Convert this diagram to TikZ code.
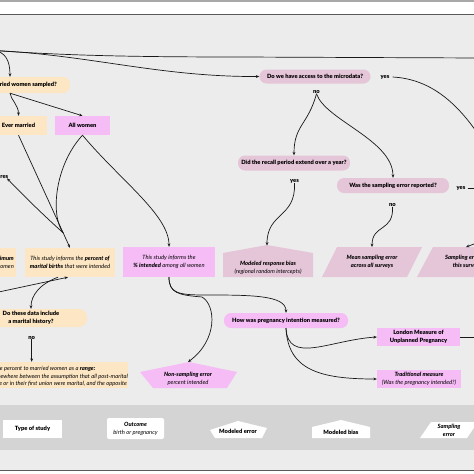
\documentclass[tikz,border=0pt]{standalone}
\usepackage{fontspec}
\setmainfont{Lato}[BoldFont={Lato Black}, BoldItalicFont={Lato Black Italic}]
\usetikzlibrary{arrows.meta,calc}
\definecolor{panel}{HTML}{ECECEC}
\definecolor{band}{HTML}{D4D4D4}
\definecolor{cream}{HTML}{FCE6C4}
\definecolor{mauve}{HTML}{E5C5D8}
\definecolor{pinkn}{HTML}{F5BCF5}
\definecolor{topbar}{HTML}{A8A8A8}
\definecolor{rulec}{HTML}{5A5A5A}
\begin{document}
\begin{tikzpicture}[x=1pt,y=-1pt,
  every node/.style={font=\fontsize{5.8}{8}\selectfont, inner sep=0pt, align=center},
  tb/.style={font=\fontsize{5.8}{8}\selectfont\bfseries},
  ti/.style={font=\fontsize{5.8}{8}\selectfont\itshape},
  tbi/.style={font=\fontsize{5.8}{8}\selectfont\bfseries\itshape},
  cbox/.style={fill=cream},
  pbox/.style={fill=pinkn},
  mbox/.style={fill=mauve},
  pill/.style={rounded corners=7pt},
  conn/.style={line width=0.7pt, black!90},
  arr/.style={conn, -{Stealth[length=3.4pt,width=2.8pt]}},
]
\useasboundingbox (0,0) rectangle (474,474);
% background
\fill[topbar] (0,0) rectangle (474,2);
\fill[white] (0,2) rectangle (474,14);
\fill[panel] (0,15) rectangle (474,470);
\fill[band] (0,405) rectangle (474,450);
\draw[rulec,line width=1.2pt] (-5,14.5) -- (480,14.5);
\draw[rulec,line width=1.2pt] (-5,470.5) -- (480,470.5);
\fill[white] (0,471.2) rectangle (474,474);

% left column
\node[cbox, rounded corners=7pt, minimum width=110pt, minimum height=16pt] (samp) at (15,85) {};
\node[tb, anchor=east] (sampt) at (57,85) {Were married women sampled?};
\node[cbox, tb, minimum width=57pt, minimum height=19pt] (evm) at (18.5,125.5) {Ever married};
\node[pbox, tb, minimum width=55pt, minimum height=19pt] (allw) at (82.5,125.5) {All women};
\node[tb, anchor=east] (res) at (8.5,176) {Measures};

\node[cbox, minimum width=96pt, minimum height=29pt] (minb) at (-32,262.5) {};
\node[ti, anchor=east, align=right] (minbt) at (14,262.5) {This study informs the \textbf{minimum}\\ percent intended among all women};
\node[cbox, ti, minimum width=90pt, minimum height=29pt] (marb) at (70,262.5) {This study informs the \textbf{percent of}\\ \textbf{marital births} that were intended};
\node[pbox, ti, minimum width=92pt, minimum height=30pt] (pint) at (169,262) {This study informs the\\ \textbf{\% intended} among all women};

\node[cbox, tb, rounded corners=8pt, minimum width=112pt, minimum height=18pt] (dmh) at (31,318) {Do these data include\\ a marital history?};
\node[tb] (no3) at (31.7,337.7) {no};
\node[cbox, minimum width=230pt, minimum height=26pt] (rng) at (13,375) {};
\node[ti, anchor=base east] (rng1) at (95.5,370) {the percent to married women as a \textbf{range:}};
\node[ti, anchor=base east] (rng2) at (128,378) {somewhere between the assumption that all post-marital};
\node[ti, anchor=base east] (rng3) at (127,385.5) {births before or in their first union were marital, and the opposite};

% right part
\node[mbox, tb, pill, minimum width=111pt, minimum height=14pt] (mic) at (315,76.5) {Do we have access to the microdata?};
\node[tb] (yes1) at (385,77) {yes};
\node[tb] (no1) at (316.5,92) {no};
\node[mbox, tb, pill, minimum width=112pt, minimum height=15pt] (recall) at (294,163) {Did the recall period extend over a year?};
\node[tb] (yes2) at (294.5,181) {yes};
\node[mbox, tb, pill, minimum width=112pt, minimum height=15pt] (samperr) at (393,185.5) {Was the sampling error reported?};
\node[tb] (no2) at (392.5,205) {no};
\node[tb] (yes3) at (461,188) {yes};

\fill[mauve] (223,253) -- (267,245) -- (313,253) -- (313,277) -- (223,277) -- cycle;
\coordinate (mrbtop) at (267,245.5);
\node[ti] (mrb) at (268,267.5) {\textbf{Modeled response bias}\\ (regional random intercepts)};
\fill[mauve] (322,277) -- (337,247) -- (422,247) -- (407,277) -- cycle;
\coordinate (msetop) at (372,247);
\node[tbi] (mse) at (372,262) {Mean sampling error\\ across all surveys};
\fill[mauve] (417,277) -- (433,247) -- (519,247) -- (502,277) -- cycle;
\coordinate (seitop) at (466,247);
\node[tbi] (seit) at (466,262) {Sampling error in\\ this survey};

\node[pbox, tb, pill, minimum width=124pt, minimum height=15pt] (How) at (286,320.5) {How was pregnancy intention measured?};
\fill[pinkn] (140,372) -- (189,362) -- (237,372) -- (227,388) -- (153,388) -- cycle;
\coordinate (nsetop) at (188,362);
\node[ti] (nse) at (188,378.5) {\textbf{Non-sampling error}\\ percent intended};
\node[pbox, tb, minimum width=83pt, minimum height=18pt] (lmup) at (418.5,337) {London Measure of\\ Unplanned Pregnancy};
\node[pbox, ti, minimum width=84pt, minimum height=18pt] (trad) at (419,379) {\textbf{Traditional measure}\\ (Was the pregnancy intended?)};

% legend
\node[fill=white, tb, minimum width=59pt, minimum height=18pt] (lg1) at (32.5,429) {Type of study};
\node[fill=white, ti, rounded corners=2pt, minimum width=57pt, minimum height=21pt] (lg2) at (135.5,428.5) {\textbf{Outcome}\\ birth or pregnancy};
\fill[white] (210,430) -- (238,421) -- (267,428) -- (262,438) -- (215,438) -- cycle;
\node[tb] (lg3) at (238,431) {Modeled error};
\fill[white] (312,427) -- (341,420) -- (370,427) -- (370,438) -- (312,438) -- cycle;
\node[tb] (lg4) at (341,432.5) {Modeled bias};
\fill[white] (420,438) -- (431,422) -- (478,422) -- (467,438) -- cycle;
\node[tbi] (lg5) at (449,430) {Sampling\\ error};

% connectors
\coordinate (L0) at (-6,50.5);
\coordinate (R1) at (480,58);
\coordinate (R2) at (484,143);
\coordinate (R3) at (480,188);
\coordinate (R4) at (482,241);
\coordinate (R5) at (480,337);
\coordinate (L2) at (-6,293);
\draw[arr] (L0) .. controls (5,52) and (10,60) .. ([xshift=-5pt]samp.north);
\draw[arr] (L0) .. controls (90,55) and (160,77) .. (mic.west);
\draw[conn] (L0) .. controls (60,55) and (120,57) .. (240,57) -- (R1);
\draw[arr] ([xshift=-5pt]samp.south) .. controls (11,100) and (18.5,105) .. (evm.north);
\draw[arr] ([xshift=-5pt]samp.south) -- (allw.north);
\draw[arr] (evm.south) -- (marb.north);
\coordinate (J) at ($(evm.south)!0.867!(marb.north)$);
\draw[conn] (allw.south) .. controls (55,165) and (50,215) .. (J);
\draw[arr] (J) .. controls (40,212) and (20,192) .. ([xshift=-1.5pt]res.south east);
\draw[arr] (allw.south) .. controls (120,180) and (169,215) .. (pint.north);
\draw[arr] (L2) -- ([xshift=-2pt]marb.south);
\draw[arr] ([xshift=-12pt]marb.south) .. controls (40,284) and (31,295) .. (dmh.north);
\draw[arr] (no3.south) -- (no3.south |- rng.north);

\draw[conn] ([xshift=3pt]yes1.east) .. controls (430,79) and (458,102) .. (R2);
\draw[arr] (no1.south) .. controls (308,125) and (294,125) .. (recall.north);
\draw[arr] (no1.south) .. controls (325,120) and (393,140) .. (samperr.north);
\draw[arr] (yes2.south) .. controls (296,218) and (267,212) .. (mrbtop);
\draw[arr] (no2.south) .. controls (394,232) and (372,224) .. (msetop);
\draw[conn] ([xshift=2pt]yes3.east) -- (R3);
\draw[arr] (R4) -- (seitop);

\draw[arr] (pint.south) .. controls (169,293) and (178,295) .. (205,295) .. controls (250,295) and (286,295) .. (How.north);
\draw[arr] (pint.south) .. controls (169,293) and (178,295) .. (202,297) .. controls (216,305) and (218,340) .. (nsetop);
\draw[arr] (How.south) .. controls (288,365) and (330,340) .. (lmup.west);
\draw[arr] (How.south) .. controls (288,370) and (320,379) .. (trad.west);
\draw[conn] (lmup.east) -- (R5);
\end{tikzpicture}
\end{document}
